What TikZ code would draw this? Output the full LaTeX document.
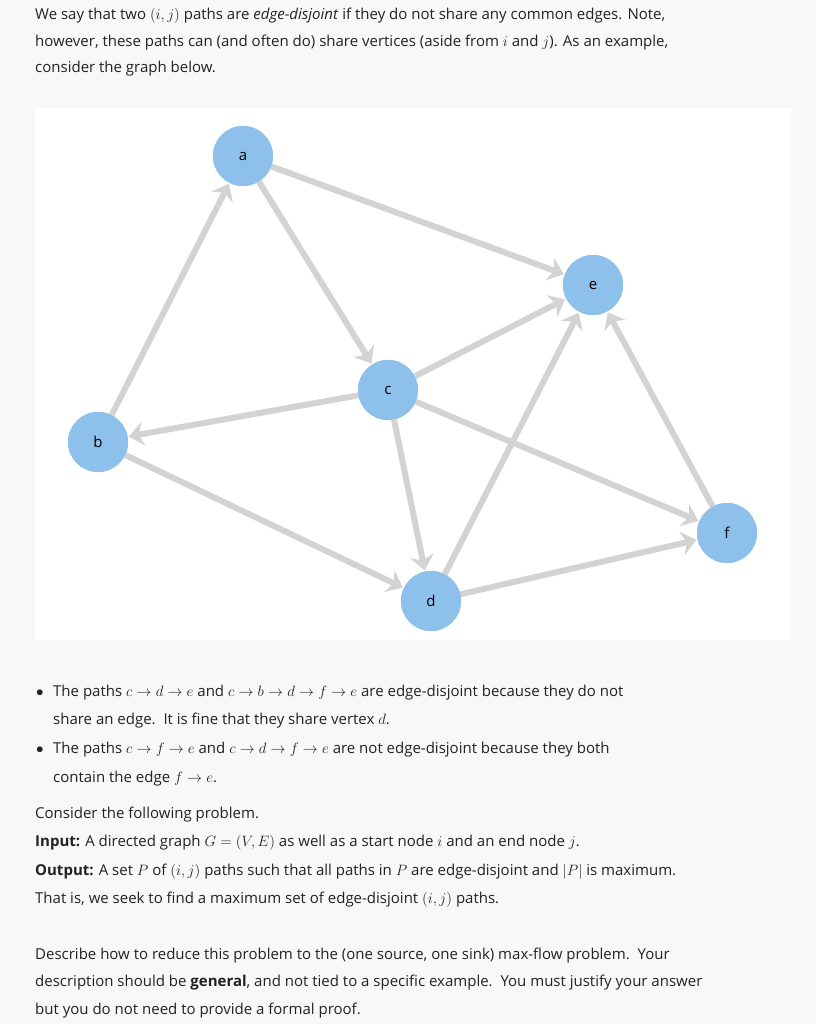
\RequirePackage{fix-cm}
\documentclass[tikz,border=0pt]{standalone}
\usepackage{fontspec}
\setmainfont{Open Sans}
\usetikzlibrary{arrows.meta}
\definecolor{bg}{HTML}{F8F8FA}
\definecolor{nodeblue}{HTML}{8DC0EA}
\definecolor{edgegray}{HTML}{D3D3D3}
\definecolor{txt}{HTML}{222222}
\tikzset{
  vtx/.style={circle,fill=nodeblue,minimum size=60pt,inner sep=0pt,font=\fontsize{15}{15}\selectfont},
  edge/.style={draw=edgegray,line width=6pt,-{Stealth[length=15pt,width=24pt,inset=5pt]},shorten >=1pt},
  ln/.style={anchor=base west,inner sep=0pt,text=txt,font=\fontsize{15}{18}\selectfont},
}
\begin{document}
\begin{tikzpicture}[x=1pt,y=-1pt]
\fill[bg] (0,0) rectangle (816,1024);
\fill[white] (35,108) rectangle (791,640);
\node[vtx] (a) at (243,156) {a};
\node[vtx] (e) at (593,285) {e};
\node[vtx] (c) at (388,390) {c};
\node[vtx] (b) at (98,442) {b};
\node[vtx] (f) at (727,533) {f};
\node[vtx] (d) at (431,601) {d};
\foreach \s/\t in {a/e,a/c,b/a,c/b,c/e,c/f,c/d,b/d,d/e,d/f,f/e}
  \draw[edge] (\s) -- (\t);
\node[vtx] at (a) {a};
\node[vtx] at (e) {e};
\node[vtx] at (c) {c};
\node[vtx] at (b) {b};
\node[vtx] at (f) {f};
\node[vtx] at (d) {d};
\node[ln] (l1) at (35,20) {We say that two $(i,j)$ paths are \textit{edge-disjoint} if they do not share any common edges. Note,};
\node[ln] (l2) at (35,47) {however, these paths can (and often do) share vertices (aside from $i$ and $j$). As an example,};
\node[ln] (l3) at (35,73) {consider the graph below.};
\node[ln] (b1) at (36,696) {$\bullet$};
\node[ln] (l4) at (53,696) {The paths $c\rightarrow d\rightarrow e$ and $c\rightarrow b\rightarrow d\rightarrow f\rightarrow e$ are edge-disjoint because they do not};
\node[ln] (l5) at (53,724) {share an edge.\ \ It is fine that they share vertex $d$.};
\node[ln] (b2) at (36,753) {$\bullet$};
\node[ln] (l6) at (53,753) {The paths $c\rightarrow f\rightarrow e$ and $c\rightarrow d\rightarrow f\rightarrow e$ are not edge-disjoint because they both};
\node[ln] (l7) at (53,782) {contain the edge $f\rightarrow e$.};
\node[ln] (l8) at (35,818) {Consider the following problem.};
\node[ln] (l9) at (35,846) {\textbf{Input:} A directed graph $G=(V,E)$ as well as a start node $i$ and an end node $j$.};
\node[ln] (l10) at (35,875) {\textbf{Output:} A set $P$ of $(i,j)$ paths such that all paths in $P$ are edge-disjoint and $|P|$ is maximum.};
\node[ln] (l11) at (35,903) {That is, we seek to find a maximum set of edge-disjoint $(i,j)$ paths.};
\node[ln] (l12) at (35,959) {Describe how to reduce this problem to the (one source, one sink) max-flow problem.\ \ Your};
\node[ln] (l13) at (35,986) {description should be \textbf{general}, and not tied to a specific example.\ \ You must justify your answer};
\node[ln] (l14) at (35,1014) {but you do not need to provide a formal proof.};
\end{tikzpicture}
\end{document}
